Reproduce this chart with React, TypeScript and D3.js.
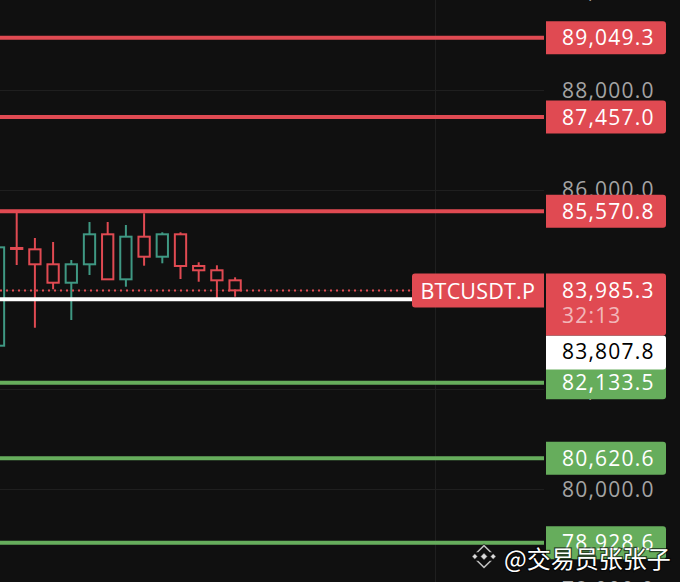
import React from "react";
import * as d3 from "d3";

const W = 680;
const H = 582;

// OHLC candles (oldest → newest)
const opens = [82877, 84835, 84808, 84508, 84139, 84508, 85109, 84207, 85061, 84660, 85109, 84474, 84388, 84187];
const highs = [84848, 85540, 85035, 84955, 84594, 85355, 85355, 85295, 85530, 85149, 85149, 84548, 84488, 84247];
const lows = [82877, 84494, 83237, 84007, 83392, 84293, 84200, 84059, 84480, 84528, 84213, 84159, 83778, 83859];
const closes = [84848, 84820, 84508, 84139, 84508, 85109, 84207, 85061, 84660, 85109, 84474, 84388, 84187, 83985.3];

const resistanceLevels = [89049.3, 87457.0, 85570.8];
const supportLevels = [82133.5, 80620.6, 78928.6];
const lastPrice = 83985.3;
const markPrice = 83807.8;
const symbol = "BTCUSDT.P";
const countdown = "32:13";
const axisTicks = [90000, 88000, 86000, 84000, 82000, 80000, 78000];
const watermark = "@交易员张张子";

const BG = "#101010";
const RED = "#e04a52";
const GREEN_LINE = "#66ad5c";
const GREEN_CANDLE = "#3f9883";
const GRID = "#1f1f1f";
const AXIS_TEXT = "#a4a4a4";
const FONT = "'Open Sans', 'Noto Sans', sans-serif";

const PLOT_RIGHT = 544;
const TAG_X0 = 546;
const TAG_X1 = 666;
const TEXT_X = 562;

const fmt = (v: number) => d3.format(",.1f")(v);

function rightRounded(x0: number, y0: number, x1: number, y1: number, r: number) {
  return `M${x0},${y0} L${x1 - r},${y0} Q${x1},${y0} ${x1},${y0 + r} L${x1},${y1 - r} Q${x1},${y1} ${x1 - r},${y1} L${x0},${y1} Z`;
}
function leftRounded(x0: number, y0: number, x1: number, y1: number, r: number) {
  return `M${x0 + r},${y0} L${x1},${y0} L${x1},${y1} L${x0 + r},${y1} Q${x0},${y1} ${x0},${y1 - r} L${x0},${y0 + r} Q${x0},${y0} ${x0 + r},${y0} Z`;
}

export default function App() {
  const y = d3.scaleLinear().domain([80000, 88000]).range([489.3, 90]);
  const x = d3.scaleLinear().domain([0, closes.length - 1]).range([-1.5, 235.1]);
  const bodyW = 11.3;
  const tagH = 33;
  const numStyle = { fontFamily: FONT, fontSize: 21, letterSpacing: 1.2 } as React.CSSProperties;

  const tag = (v: number, color: string, key: string) => {
    const cy = y(v);
    return (
      <g key={key}>
        <path d={rightRounded(TAG_X0, cy - tagH / 2, TAG_X1, cy + tagH / 2, 3)} fill={color} />
        <text x={TEXT_X} y={cy + 7.5} fill="#ffffff" style={numStyle}>{fmt(v)}</text>
      </g>
    );
  };

  const lastY = y(lastPrice);
  const redTop = lastY - 16.8;
  const redBot = redTop + 62;
  const whiteBot = redBot + 34;

  return (
    <svg width={W} height={H} style={{ position: "absolute", left: 0, top: 0, background: BG }}>
      <rect x={0} y={0} width={W} height={H} fill={BG} />
      {/* grid */}
      {axisTicks.map((t) => (
        <line key={"g" + t} x1={0} x2={PLOT_RIGHT} y1={Math.round(y(t)) + 0.5} y2={Math.round(y(t)) + 0.5} stroke={GRID} strokeWidth={1} />
      ))}
      <line x1={435.5} x2={435.5} y1={0} y2={H} stroke={GRID} strokeWidth={1} />
      {/* axis tick labels */}
      {axisTicks.map((t) => (
        <text key={"t" + t} x={TEXT_X} y={y(t) + 7.5} fill={AXIS_TEXT} style={numStyle}>{fmt(t)}</text>
      ))}
      {/* candles */}
      {closes.map((c, i) => {
        const o = opens[i];
        const up = c >= o;
        const col = up ? GREEN_CANDLE : RED;
        const top = y(Math.max(o, c));
        const bot = y(Math.min(o, c));
        const cx = x(i);
        return (
          <g key={"c" + i}>
            <line x1={cx} x2={cx} y1={y(highs[i])} y2={top} stroke={col} strokeWidth={2} />
            <line x1={cx} x2={cx} y1={bot} y2={y(lows[i])} stroke={col} strokeWidth={2} />
            <rect x={cx - bodyW / 2} y={top} width={bodyW} height={Math.max(bot - top, 1)} fill={BG} stroke={col} strokeWidth={2} />
          </g>
        );
      })}
      {/* horizontal levels */}
      {resistanceLevels.map((v) => (
        <line key={"r" + v} x1={0} x2={PLOT_RIGHT} y1={y(v)} y2={y(v)} stroke={RED} strokeWidth={4} />
      ))}
      {supportLevels.map((v) => (
        <line key={"s" + v} x1={0} x2={PLOT_RIGHT} y1={y(v)} y2={y(v)} stroke={GREEN_LINE} strokeWidth={4} />
      ))}
      <line x1={0} x2={412} y1={lastY} y2={lastY} stroke={RED} strokeWidth={2} strokeDasharray="2 4" />
      <line x1={0} x2={412} y1={y(markPrice)} y2={y(markPrice)} stroke="#ffffff" strokeWidth={4} />
      {/* tags */}
      {resistanceLevels.map((v) => tag(v, RED, "rt" + v))}
      {supportLevels.map((v) => tag(v, GREEN_LINE, "st" + v))}
      {/* last price tag */}
      <path d={leftRounded(412, redTop, 544, redTop + 34, 3)} fill={RED} />
      <text x={420.5} y={redTop + 25.8} fill="#ffffff" style={{ fontFamily: FONT, fontSize: 21.5, letterSpacing: 0.2 }}>{symbol}</text>
      <path d={rightRounded(TAG_X0, whiteBot - 34, TAG_X1, whiteBot, 3)} fill="#ffffff" />
      <text x={TEXT_X} y={whiteBot - 10.3} fill="#000000" style={numStyle}>{fmt(markPrice)}</text>
      <path d={rightRounded(TAG_X0, redTop, TAG_X1, redBot, 3)} fill={RED} />
      <text x={TEXT_X} y={lastY + 8} fill="#ffffff" style={numStyle}>{fmt(lastPrice)}</text>
      <text x={TEXT_X} y={lastY + 33} fill="rgba(255,255,255,0.62)" style={numStyle}>{countdown}</text>
      {/* watermark */}
      <g transform="translate(484,556.5) scale(1.08)" fill="#dcdcdc" stroke="rgba(0,0,0,0.55)" strokeWidth={1}>
        <polygon points="0,-3.4 3.4,0 0,3.4 -3.4,0" />
        <polygon points="-8.5,-2.8 -5.7,0 -8.5,2.8 -11.3,0" />
        <polygon points="8.5,-2.8 11.3,0 8.5,2.8 5.7,0" />
        <path d="M-7.8,-3.6 L0,-11.4 L7.8,-3.6 L5.3,-3.6 L0,-8.8 L-5.3,-3.6 Z" />
        <path d="M-7.8,3.6 L0,11.4 L7.8,3.6 L5.3,3.6 L0,8.8 L-5.3,3.6 Z" />
      </g>
      <text x={504} y={557.5} dominantBaseline="central" fill="#ffffff" stroke="rgba(0,0,0,0.6)" strokeWidth={2.5} paintOrder="stroke"
        style={{ fontFamily: "'Noto Sans CJK SC', sans-serif", fontSize: 24 }}>{watermark}</text>
    </svg>
  );
}
